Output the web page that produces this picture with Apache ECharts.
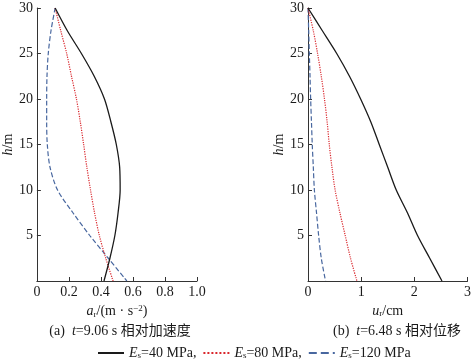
<!DOCTYPE html>
<html>
<head>
<meta charset="utf-8">
<script src="https://cdn.jsdelivr.net/npm/echarts@6/dist/echarts.min.js"></script>
<style>html,body{margin:0;padding:0;background:#fff}#c{width:474px;height:364px}</style>
</head>
<body>
<div id="c"></div>
<script>
var heights = [30, 27.5, 25, 22.5, 20, 17.5, 15, 12.5, 10, 7.5, 5, 2.5, 0];
var seriesNames = ['Es=40 MPa', 'Es=80 MPa', 'Es=120 MPa'];
var legendLabels = ['=40 MPa,', '=80 MPa,', '=120 MPa'];
// (a) relative acceleration a_r (m/s^2)
var acc40  = [0.114, 0.19, 0.278, 0.358, 0.422, 0.462, 0.496, 0.517, 0.520, 0.507, 0.487, 0.456, 0.419];
var acc80  = [0.114, 0.149, 0.186, 0.216, 0.247, 0.271, 0.292, 0.312, 0.335, 0.36, 0.39, 0.43, 0.476];
var acc120 = [0.114, 0.088, 0.071, 0.063, 0.061, 0.061, 0.065, 0.082, 0.129, 0.225, 0.33, 0.446, 0.562];
// (b) relative displacement u_r (cm)
var dis40  = [0.0, 0.27, 0.54, 0.78, 0.99, 1.18, 1.34, 1.50, 1.66, 1.87, 2.06, 2.29, 2.52];
var dis80  = [0.0, 0.10, 0.18, 0.25, 0.31, 0.36, 0.40, 0.45, 0.51, 0.60, 0.70, 0.80, 0.92];
var dis120 = [0.0, 0.013, 0.025, 0.038, 0.05, 0.065, 0.08, 0.10, 0.12, 0.16, 0.20, 0.25, 0.33];
var accTicks = {min: 0, max: 1, interval: 0.2};
var disTicks = {min: 0, max: 3, interval: 1};
var hTicks = {min: 0, max: 30, interval: 5};

function pairs(xs) { return xs.map(function (v, i) { return [v, heights[i]]; }); }

var serif = 'Liberation Serif, Times New Roman, DejaVu Serif, serif';
var cjk = 'Liberation Serif, Noto Sans CJK SC, serif';
var ink = '#1a1a1a';
var rich = {
  i: {fontFamily: serif, fontStyle: 'italic', fontSize: 14, color: ink},
  n: {fontFamily: cjk, fontSize: 14, color: ink},
  s: {fontFamily: serif, fontSize: 9, color: ink, padding: [6, 0, 0, 0]},
  p: {fontFamily: serif, fontSize: 9, color: ink, padding: [0, 0, 6, 0]}
};
var colors = ['#1a1a1a', '#d9262c', '#48679f'];
var types = ['solid', 'dotted', 'dashed'];
var widths = [1.3, 1.2, 1.2];

function yAx(gi) {
  return {
    type: 'value', gridIndex: gi, min: hTicks.min, max: hTicks.max, interval: hTicks.interval,
    name: '{i|h}{n|/m}', nameLocation: 'middle', nameGap: 18, nameRotate: 90,
    nameTextStyle: {rich: rich},
    axisLine: {show: true, lineStyle: {color: '#333', width: 1}},
    axisTick: {show: true, inside: true, length: 4, lineStyle: {color: '#333'}},
    axisLabel: {fontFamily: serif, fontSize: 14, color: ink, margin: 4,
      formatter: function (v) { return v === 0 ? '' : String(v); }},
    splitLine: {show: false}
  };
}
function xAx(gi, t, nm, fmt) {
  return {
    type: 'value', gridIndex: gi, min: t.min, max: t.max, interval: t.interval,
    name: nm, nameLocation: 'middle', nameGap: 20, nameTextStyle: {rich: rich},
    axisLine: {show: true, onZero: false, lineStyle: {color: '#333', width: 1}},
    axisTick: {show: true, inside: true, length: 4, lineStyle: {color: '#333'}},
    axisLabel: {fontFamily: serif, fontSize: 14, color: ink, margin: 4, formatter: fmt},
    splitLine: {show: false}
  };
}
function ser(i, gi, xs) {
  return {
    name: seriesNames[i], type: 'line', xAxisIndex: gi, yAxisIndex: gi,
    data: pairs(xs), smooth: 0.3, symbol: 'none', showSymbol: false,
    lineStyle: {color: colors[i], type: types[i], width: widths[i]},
    itemStyle: {color: colors[i]}, z: 3 - i
  };
}

var chart = echarts.init(document.getElementById('c'), null, {renderer: 'canvas'});
chart.setOption({
  animation: false,
  backgroundColor: '#fff',
  grid: [
    {left: 34, top: 8, width: 163, height: 273},
    {left: 308, top: 8, width: 162, height: 273}
  ],
  xAxis: [
    xAx(0, accTicks, '{i|a}{s|r}{n|/(m · s}{p|−2}{n|)}', function (v) { return v === 0 ? '0' : v.toFixed(1); }),
    xAx(1, disTicks, '{i|u}{s|r}{n|/cm}', function (v) { return String(v); })
  ],
  yAxis: [yAx(0), yAx(1)],
  title: [
    {text: '{n|(a)  }{i|t}{n|=9.06 s 相对加速度}', left: 115, top: 319, textAlign: 'center',
     textStyle: {fontFamily: cjk, fontSize: 14, fontWeight: 'normal', color: ink, rich: rich}},
    {text: '{n|(b)  }{i|t}{n|=6.48 s 相对位移}', left: 392, top: 319, textAlign: 'center',
     textStyle: {fontFamily: cjk, fontSize: 14, fontWeight: 'normal', color: ink, rich: rich}}
  ],
  legend: {
    show: true,
    data: seriesNames, left: 92, top: 341, itemWidth: 26, itemHeight: 10, itemGap: 6,
    itemStyle: {opacity: 0},
    formatter: function (name) {
      var k = seriesNames.indexOf(name);
      return '{i|E}{s|s}{n|' + legendLabels[k] + '}';
    },
    textStyle: {rich: rich}
  },
  series: [
    ser(0, 0, acc40), ser(1, 0, acc80), ser(2, 0, acc120),
    ser(0, 1, dis40), ser(1, 1, dis80), ser(2, 1, dis120)
  ]
});
</script>
</body>
</html>
